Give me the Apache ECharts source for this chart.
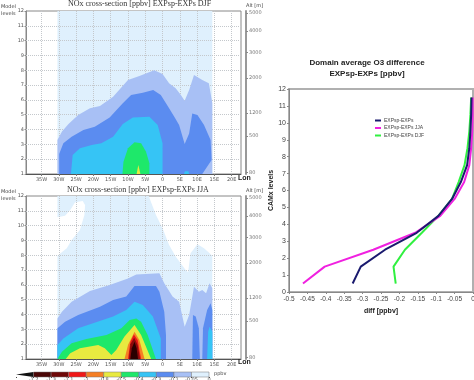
<!DOCTYPE html>
<html><head><meta charset="utf-8">
<style>html,body{margin:0;padding:0;background:#fff}#c{width:474px;height:380px}</style>
<script src="https://cdn.jsdelivr.net/npm/echarts@6/dist/echarts.min.js"></script>
</head><body><div id="c"></div>
<script>
// ---- shared axis data
const lonTicks = [-35,-30,-25,-20,-15,-10,-5,0,5,10,15,20];
const lonLabels = ['35W','30W','25W','20W','15W','10W','5W','0','5E','10E','15E','20E'];
const altLevels = [1.09,3.58,5.13,7.49,9.2,10.66,11.88];
const altLabels = ['80','500','1200','2000','3000','4000','5000'];
const levelLines = [2,3,4,5,6,7,8,9,10,11];
// ---- DJF contours [lon, level]
const paleDJF = [[-30.4,1],[-30.4,12],[14.4,12],[14.4,1]];
const lightDJF = [[-30.4,1],[-30.4,3.29],[-29.1,3.86],[-27.2,4.37],[-24.4,4.98],[-21,5.43],[-18.1,5.59],[-14.3,6.22],[-10,7.34],[-6.7,7.61],[-2.4,8],[0,7.75],[1.9,7.12],[3.8,6.78],[5.3,6.33],[6.4,5.95],[7.7,6.67],[9.1,7.68],[11.5,7.34],[13.4,7.12],[14.4,5.77],[14.4,1]];
const mediumDJF = [[-29.9,1],[-29.9,2.35],[-28.7,3.07],[-26.3,3.52],[-22.9,3.97],[-19.6,4.19],[-15.3,4.82],[-11.5,5.77],[-9.1,6.33],[-5.7,6.49],[-2.7,6.67],[-0.5,6.33],[1.9,5.43],[3.4,4.87],[4.8,4.31],[6.4,3.02],[7.7,3.74],[8.6,5.09],[10.1,4.98],[12,4.31],[13.9,3.29],[14.2,1.94],[11.5,1]];
const cyanDJF = [[-26.5,1],[-26,2.28],[-23.9,2.73],[-20.5,2.96],[-17.7,3.07],[-14.3,3.52],[-11.5,4.37],[-8.6,4.82],[-3.8,4.87],[-1.4,4.31],[0,3.07],[0,1]];
const cyanDJF2 = [[6.2,1],[6.5,1.18],[7.5,1.18],[7.7,1]];
const greenDJF = [[-11.6,1],[-11.3,1.83],[-10,2.73],[-8.1,3.14],[-6.2,3.07],[-4.8,2.51],[-3.8,1.72],[-3.8,1]];
const yellowDJF = [[-7.5,1],[-7,1.61],[-6.4,1]];
// ---- JJA contours [lon, level]
const paleJJA = [[-30.4,1],[-30.4,7.97],[-27.7,8.47],[-26.3,9.03],[-23.9,9.71],[-22.6,10.72],[-22.4,11.39],[-23.1,11.66],[-25.3,11.57],[-26.7,11.06],[-28.2,10.67],[-30.4,10.56],[-30.4,12],[-4,12],[-1.9,10.72],[0,9.82],[1.9,8.69],[3.8,7.91],[6.7,7.01],[7.4,6.85],[8.1,8.13],[10.1,8.74],[12,8.47],[14.4,7.97],[14.4,1]];
const lightJJA = [[-30.4,1],[-30.4,3.74],[-29.1,4.19],[-26.3,4.87],[-21,5.59],[-15.3,5.99],[-10,6.44],[-7.6,6.71],[-0.9,6.78],[0.5,6.11],[2.9,5.21],[4.8,4.87],[6.4,3.18],[7.7,3.97],[9.1,5.88],[10.5,5.54],[11.5,5.66],[12.6,5.43],[13.6,6.11],[14.4,5.77],[14.4,1]];
const mediumJJA = [[-30.4,1],[-30.4,3.07],[-28.2,3.52],[-24.4,3.97],[-18.1,4.53],[-14.3,4.98],[-10.5,5.21],[-8.1,5.93],[-1.9,5.93],[-0.9,5.54],[0.5,4.19],[1,2.62],[1,1]];
const mediumJJA2 = [[8.6,1],[8.8,3.97],[9.6,3.86],[10.5,3.07],[10.8,1]];
const mediumJJA3 = [[11.5,1],[11.7,3.07],[12.9,4.31],[13.9,4.76],[14.4,4.31],[14.4,1]];
const cyanJJA = [[-30.4,1],[-30.4,1.94],[-28.7,2.39],[-24.4,3.07],[-20.1,3.41],[-14.3,3.86],[-10.5,4.31],[-8.1,4.87],[-5.7,4.64],[-2.8,3.86],[-0.5,2.39],[-0.5,1]];
const cyanJJA2 = [[12.9,1],[13.2,2.84],[13.6,3.18],[14.4,2.84],[14.4,1]];
const greenJJA = [[-30.4,1],[-29.1,1.49],[-26.3,2.06],[-22,2.35],[-16.2,2.62],[-11.9,3.07],[-9.5,3.63],[-7.6,3.74],[-6.2,3.52],[-4.3,2.62],[-1.9,1]];
const yellowJJA = [[-28,1],[-26.7,1.38],[-23.9,1.72],[-18.6,1.94],[-16.7,1.72],[-14.8,1.27],[-13.4,1.61],[-11,2.51],[-8.1,3.29],[-6.2,2.62],[-3.3,1]];
const orangeJJA = [[-11,1],[-10,1.94],[-8.1,2.84],[-6.7,2.28],[-5.2,1]];
const redJJA = [[-10,1],[-9.3,2.17],[-8.3,2.66],[-7.2,2.28],[-6.2,1]];
const darkJJA = [[-9.7,1],[-9.3,1.99],[-8.2,2.44],[-7.2,1.94],[-6.5,1]];
const blackJJA = [[-9.3,1],[-8.9,1.72],[-8.1,2.17],[-7.5,1.72],[-7.1,1]];
// ---- O3 profile
const camxLevels = [0.5,1.5,2.5,3.5,4.5,5.5,6.5,7.5,8.5,9.5,10.5,11.5];
const diffAll = [-0.327,-0.305,-0.239,-0.153,-0.094,-0.057,-0.033,-0.016,-0.01,-0.007,-0.005,-0.004];
const diffJJA = [-0.462,-0.403,-0.271,-0.157,-0.089,-0.05,-0.024,-0.01,-0.005,-0.002,-0.001,-0.001];
const diffDJF = [-0.21,-0.216,-0.185,-0.139,-0.094,-0.057,-0.039,-0.023,-0.015,-0.01,-0.007,-0.005];
// ---- colour bar
const barLabels = ['-1.7','-1.3','-1.1','-1','-0.8','-0.5','-0.4','-0.3','-0.1','-0.05','0'];
const barColors = ['#4a0606','#6e0808','#f01818','#f57f25','#e8ea40','#1ee86a','#36c4f5','#5b8cf0','#a8c0f5','#dff0fd'];

const COL = {pale:'#dff0fd',light:'#a8c0f5',medium:'#5b8cf0',cyan:'#36c4f5',green:'#1ee86a',yellow:'#e8ea40',orange:'#f57f25',red:'#e81818',dark:'#8b0a0a',black:'#2a0000'};

function band(points, color, axisX, axisY, z, edge, noClip){
  return {type:'custom',xAxisIndex:axisX,yAxisIndex:axisY,z:z,silent:true,clip:!noClip,
    data:points,encode:{x:0,y:1},
    renderItem:function(params,api){
      if(params.dataIndex!==0) return null;
      return {type:'polygon',shape:{points:points.map(p=>api.coord(p))},style:{fill:color,stroke:edge||null,lineWidth:edge?0.5:0}};
    }};
}
function guides(axisX,axisY){
  const v = lonTicks.map(x=>({xAxis:x}));
  const h = levelLines.map(y=>({yAxis:y}));
  return {type:'line',xAxisIndex:axisX,yAxisIndex:axisY,z:2,silent:true,data:[],symbol:'none',
    markLine:{z:2,silent:true,symbol:'none',animation:false,label:{show:false},
      lineStyle:{color:'#c4c8cc',width:1,type:'dotted'},data:v.concat(h)}};
}
const small = {fontFamily:'DejaVu Sans',fontSize:5,color:'#555'};
function lonAxis(g){
  return {type:'value',gridIndex:g,min:-39.5,max:22.7,position:'bottom',splitLine:{show:false},
    axisLine:{onZero:false,lineStyle:{color:'#555',width:1}},
    axisTick:{customValues:lonTicks,length:2,lineStyle:{color:'#777'}},
    axisLabel:{customValues:lonTicks,margin:3,...small,formatter:v=>lonLabels[lonTicks.indexOf(v)]}};
}
function levAxis(g){
  return {type:'value',gridIndex:g,min:1,max:12,interval:1,position:'left',splitLine:{show:false},
    axisLine:{onZero:false,lineStyle:{color:'#888'}},axisTick:{length:1.5,lineStyle:{color:'#888'}},
    axisLabel:{margin:2,...small}};
}
function altAxis(g){
  return {type:'value',gridIndex:g,min:1,max:12,position:'right',offset:5,splitLine:{show:false},
    axisLine:{onZero:false,show:true,lineStyle:{color:'#999',width:2}},
    axisTick:{show:true,customValues:altLevels,length:2,lineStyle:{color:'#888'}},
    axisLabel:{customValues:altLevels,margin:3,...small,color:'#777',formatter:v=>altLabels[altLevels.indexOf(v)]}};
}
const tx = (text,left,top,o)=>({text:text,left:left,top:top,padding:0,itemGap:0,
  textStyle:Object.assign({fontFamily:'DejaVu Sans',fontSize:5,fontWeight:'normal',color:'#444',lineHeight:7},o||{})});
const serif = {fontFamily:'Liberation Serif',fontSize:8,color:'#333'};
const boldS = {fontFamily:'Liberation Sans',fontWeight:'bold',fontSize:8,color:'#222',lineHeight:10.5};

const barSeries = barColors.map((c,i)=>band([[i,0],[i,1],[i+1,1],[i+1,0]],c,3,5,3,'#777',true));
const arrow = band([[-1,0.5],[0,1],[0,0]],'#111',3,5,3,null,true);

const option = {
  animation:false,backgroundColor:'#fff',
  title:[
    tx('NOx cross-section [ppbv] EXPsp-EXPs DJF',68,0,serif),
    tx('NOx cross-section [ppbv] EXPsp-EXPs JJA',67,186,serif),
    tx('Model\nlevels',1,3),
    tx('Model\nlevels',1,188),
    tx('Alt [m]',246,2),
    tx('Alt [m]',246,187),
    tx('Lon',238,175,{fontFamily:'Liberation Sans',fontWeight:'bold',fontSize:7,color:'#222'}),
    tx('Lon',238,359,{fontFamily:'Liberation Sans',fontWeight:'bold',fontSize:7,color:'#222'}),
    tx('ppbv',214,370,{fontSize:5}),
    {text:'Domain average O3 difference\nEXPsp-EXPs [ppbv]',left:367,top:58,textAlign:'center',padding:0,textStyle:boldS}
  ],
  legend:{left:375,top:118,orient:'vertical',itemWidth:6,itemHeight:2,itemGap:2.5,padding:0,icon:'rect',
    textStyle:{fontFamily:'Liberation Sans',fontSize:5,color:'#444',padding:[0,0,0,-2]},
    data:['EXPsp-EXPs','EXPsp-EXPs JJA','EXPsp-EXPs DJF']},
  grid:[
    {left:26,top:11,width:215,height:163,outerBoundsMode:'none',show:true,borderColor:'#888',borderWidth:1,backgroundColor:'transparent'},
    {left:26,top:196,width:215,height:163,outerBoundsMode:'none',show:true,borderColor:'#888',borderWidth:1,backgroundColor:'transparent'},
    {left:289,top:89,width:184,height:203,outerBoundsMode:'none',show:true,borderColor:'#b0b0b0',borderWidth:2,backgroundColor:'transparent'},
    {left:16,top:372,width:193,height:5,outerBoundsMode:'none'}
  ],
  xAxis:[
    lonAxis(0),lonAxis(1),
    {type:'value',gridIndex:2,min:-0.5,max:0,interval:0.05,position:'bottom',splitLine:{show:false},
      name:'diff [ppbv]',nameLocation:'middle',nameGap:16,
      nameTextStyle:{fontFamily:'Liberation Sans',fontWeight:'bold',fontSize:7,color:'#222'},
      axisLine:{onZero:false,lineStyle:{color:'#888'}},axisTick:{length:2,lineStyle:{color:'#888'}},
      axisLabel:{margin:4,fontFamily:'Liberation Sans',fontSize:6.5,color:'#444',hideOverlap:false}},
    {type:'value',gridIndex:3,min:-1,max:10,interval:1,position:'bottom',splitLine:{show:false},
      axisLine:{show:false,onZero:false},axisTick:{length:1,lineStyle:{color:'#444'}},
      axisLabel:{margin:0,...small,formatter:v=>v<0?'':barLabels[v]}}
  ],
  yAxis:[
    levAxis(0),altAxis(0),levAxis(1),altAxis(1),
    {type:'value',gridIndex:2,min:0,max:12,interval:1,position:'left',splitLine:{show:false},
      name:'CAMx levels',nameLocation:'middle',nameGap:13,
      nameTextStyle:{fontFamily:'Liberation Sans',fontWeight:'bold',fontSize:7,color:'#222'},
      axisLine:{onZero:false,show:true,lineStyle:{color:'#888'}},axisTick:{show:true,length:2,lineStyle:{color:'#888'}},
      axisLabel:{margin:3,fontFamily:'Liberation Sans',fontSize:7,color:'#444'}},
    {type:'value',gridIndex:3,min:0,max:1,position:'left',axisLine:{show:false,onZero:false},axisTick:{show:false},axisLabel:{show:false},splitLine:{show:false}}
  ],
  series:[
    band(paleDJF,COL.pale,0,0,1),guides(0,0),
    band(lightDJF,COL.light,0,0,3),band(mediumDJF,COL.medium,0,0,3),band(cyanDJF,COL.cyan,0,0,3),band(cyanDJF2,COL.cyan,0,0,3),
    band(greenDJF,COL.green,0,0,3),band(yellowDJF,COL.yellow,0,0,3),

    band(paleJJA,COL.pale,1,2,1),guides(1,2),
    band(lightJJA,COL.light,1,2,3),band(mediumJJA,COL.medium,1,2,3),band(mediumJJA2,COL.medium,1,2,3),band(mediumJJA3,COL.medium,1,2,3),
    band(cyanJJA,COL.cyan,1,2,3),band(cyanJJA2,COL.cyan,1,2,3),band(greenJJA,COL.green,1,2,3),band(yellowJJA,COL.yellow,1,2,3),
    band(orangeJJA,COL.orange,1,2,3),band(redJJA,COL.red,1,2,3),band(darkJJA,COL.dark,1,2,3),band(blackJJA,COL.black,1,2,3),

    {type:'line',name:'EXPsp-EXPs',xAxisIndex:2,yAxisIndex:4,symbol:'none',color:'#1a1a6e',lineStyle:{width:2},z:5,data:diffAll.map((d,i)=>[d,camxLevels[i]])},
    {type:'line',name:'EXPsp-EXPs JJA',xAxisIndex:2,yAxisIndex:4,symbol:'none',color:'#f020e0',lineStyle:{width:2},z:4,data:diffJJA.map((d,i)=>[d,camxLevels[i]])},
    {type:'line',name:'EXPsp-EXPs DJF',xAxisIndex:2,yAxisIndex:4,symbol:'none',color:'#30f040',lineStyle:{width:2},z:3,data:diffDJF.map((d,i)=>[d,camxLevels[i]])},
    arrow
  ].concat(barSeries)
};
const chart = echarts.init(document.getElementById('c'),null,{renderer:'canvas'});
chart.setOption(option);
</script></body></html>
